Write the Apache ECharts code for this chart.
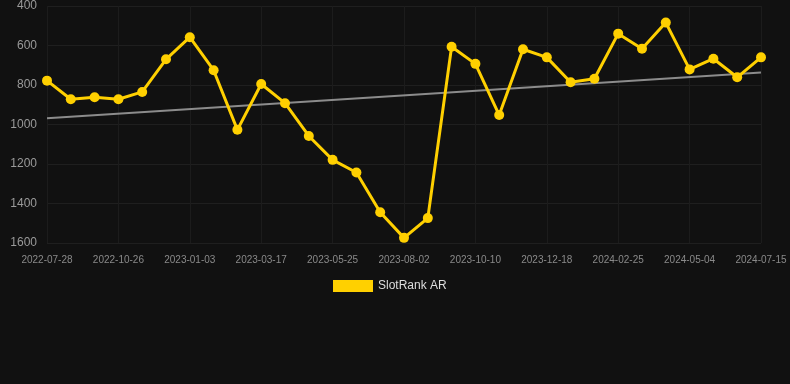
<!DOCTYPE html>
<html>
<head>
<meta charset="utf-8">
<script src="https://cdn.jsdelivr.net/npm/echarts@6/dist/echarts.min.js"></script>
<style>
html,body{margin:0;padding:0;background:#111111;}
#c{width:790px;height:384px;}
</style>
</head>
<body>
<div id="c"></div>
<script>
const categories = [
  "2022-07-28","2022-08-27","2022-09-26","2022-10-26","2022-11-18","2022-12-11",
  "2023-01-03","2023-01-27","2023-02-20","2023-03-17","2023-04-09","2023-05-02",
  "2023-05-25","2023-06-17","2023-07-10","2023-08-02","2023-08-25","2023-09-17",
  "2023-10-10","2023-11-02","2023-11-25","2023-12-18","2024-01-10","2024-02-02",
  "2024-02-25","2024-03-19","2024-04-11","2024-05-04","2024-05-27","2024-06-20",
  "2024-07-15"
];
const rankValues = [
  778, 872, 862, 872, 835, 670, 558, 725, 1027, 795, 892,
  1058, 1179, 1243, 1444, 1574, 1474, 606, 693, 952, 619,
  660, 786, 768, 540, 616, 484, 721, 667, 761, 660
];
const trendStart = 968;
const trendEnd = 737;
const yTicks = [400, 600, 800, 1000, 1200, 1400, 1600];

const trendData = categories.map((c, i) =>
  i === 0 ? trendStart : (i === categories.length - 1 ? trendEnd : null));

const chart = echarts.init(document.getElementById('c'));
chart.setOption({
  backgroundColor: '#111111',
  animation: false,
  grid: { left: 47, right: 29, top: 6, bottom: 141, containLabel: false },
  legend: {
    data: [{ name: 'SlotRank AR', icon: 'rect' }],
    top: 275,
    left: 328,
    itemWidth: 40,
    itemHeight: 12,
    textStyle: { color: '#dddddd', fontSize: 12, fontFamily: 'Liberation Sans, Arial, sans-serif' }
  },
  xAxis: {
    type: 'category',
    data: categories,
    boundaryGap: false,
    axisLine: { show: false },
    axisTick: { show: false },
    axisLabel: {
      interval: 2,
      color: '#8a8a8a',
      fontSize: 10,
      margin: 12,
      fontFamily: 'Liberation Sans, Arial, sans-serif'
    },
    splitLine: { show: true, interval: 2, lineStyle: { color: '#1c1c1c', width: 1 } }
  },
  yAxis: {
    type: 'value',
    inverse: true,
    min: yTicks[0],
    max: yTicks[yTicks.length - 1],
    interval: 200,
    axisLine: { show: false },
    axisTick: { show: false },
    axisLabel: {
      color: '#9a9a9a',
      fontSize: 12,
      margin: 10,
      formatter: (v) => String(v),
      fontFamily: 'Liberation Sans, Arial, sans-serif'
    },
    splitLine: { lineStyle: { color: '#1f1f1f', width: 1 } }
  },
  series: [
    {
      name: 'Trend',
      type: 'line',
      data: trendData,
      connectNulls: true,
      showSymbol: false,
      symbol: 'none',
      lineStyle: { color: '#8c8c8c', width: 2 },
      z: 1,
      silent: true
    },
    {
      name: 'SlotRank AR',
      type: 'line',
      data: rankValues,
      symbol: 'circle',
      symbolSize: 10,
      itemStyle: { color: '#FFD000' },
      lineStyle: { color: '#FFD000', width: 3 },
      z: 2
    }
  ]
});
</script>
</body>
</html>
